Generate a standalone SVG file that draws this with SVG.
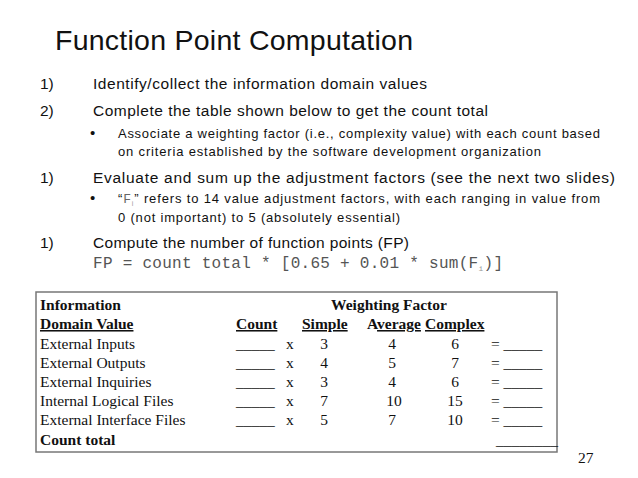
<svg xmlns="http://www.w3.org/2000/svg" width="638" height="478" viewBox="0 0 638 478">
<style>
.b{font-family:"Liberation Sans",sans-serif;fill:#111}
.t{font-family:"Liberation Serif",serif;font-size:15.5px;fill:#111}
.m{font-family:"Liberation Mono",monospace;font-size:16px;fill:#555}
.u{text-decoration:underline}
.c{text-anchor:middle}
</style>
<rect width="638" height="478" fill="#fff"/>
<g id="title"><text x="55" y="50" class="b" font-size="28.5" textLength="358">Function Point Computation</text></g>
<g id="steps" class="b">
<text x="40" y="89" font-size="15.5">1)</text>
<text x="93" y="89" font-size="15.5" textLength="334">Identify/collect the information domain values</text>
<text x="40" y="116" font-size="15.5">2)</text>
<text x="93" y="116" font-size="15.5" textLength="395">Complete the table shown below to get the count total</text>
<text x="90" y="138" font-size="15">•</text>
<text x="118" y="138" font-size="13" textLength="482">Associate a weighting factor (i.e., complexity value) with each count based</text>
<text x="118" y="156" font-size="13" textLength="423">on criteria established by the software development organization</text>
<text x="40" y="183" font-size="15.5">1)</text>
<text x="93" y="183" font-size="15.5" textLength="522">Evaluate and sum up the adjustment factors (see the next two slides)</text>
<text x="90" y="203" font-size="15">•</text>
<text x="118" y="203" font-size="13" textLength="482">“<tspan font-family="Liberation Mono" fill="#666">F</tspan><tspan font-size="7" dy="3" fill="#999">i</tspan><tspan dy="-3">” refers to 14 value adjustment factors, with each ranging in value from</tspan></text>
<text x="118" y="222" font-size="13" textLength="282">0 (not important) to 5 (absolutely essential)</text>
<text x="40" y="248" font-size="15.5">1)</text>
<text x="93" y="248" font-size="15.5" textLength="316">Compute the number of function points (FP)</text>
<text x="93" y="268" class="m" textLength="410">FP = count total * [0.65 + 0.01 * sum(F<tspan font-size="8" dy="3" fill="#999">i</tspan><tspan dy="-3">)]</tspan></text>
</g>
<g id="table">
<rect x="36" y="292" width="521" height="160" fill="none" stroke="#777" stroke-width="1.5"/>
<text x="40" y="310" class="t" font-weight="bold">Information</text>
<text x="389" y="310" class="t c" font-weight="bold">Weighting Factor</text>
<text x="40" y="329" class="t u" font-weight="bold">Domain Value</text>
<text x="236" y="329" class="t u" font-weight="bold">Count</text>
<text x="302" y="329" class="t u" font-weight="bold">Simple</text>
<text x="367" y="329" class="t" font-weight="bold">A<tspan class="u">verage</tspan></text>
<text x="425" y="329" class="t u" font-weight="bold">Complex</text>
<g class="t">
<text x="40" y="349">External Inputs</text>
<text x="40" y="368">External Outputs</text>
<text x="40" y="387">External Inquiries</text>
<text x="40" y="406">Internal Logical Files</text>
<text x="40" y="425">External Interface Files</text>
<text x="40" y="445" font-weight="bold">Count total</text>
<g>
<text x="236" y="349">_____</text><text x="236" y="368">_____</text><text x="236" y="387">_____</text><text x="236" y="406">_____</text><text x="236" y="425">_____</text>
<text x="286" y="349">x</text><text x="286" y="368">x</text><text x="286" y="387">x</text><text x="286" y="406">x</text><text x="286" y="425">x</text>
</g>
<g class="c">
<text x="324" y="349">3</text><text x="324" y="368">4</text><text x="324" y="387">3</text><text x="324" y="406">7</text><text x="324" y="425">5</text>
<text x="392" y="349">4</text><text x="392" y="368">5</text><text x="392" y="387">4</text><text x="394" y="406">10</text><text x="392" y="425">7</text>
<text x="455" y="349">6</text><text x="455" y="368">7</text><text x="455" y="387">6</text><text x="455" y="406">15</text><text x="455" y="425">10</text>
</g>
<text x="491" y="349">= _____</text><text x="491" y="368">= _____</text><text x="491" y="387">= _____</text><text x="491" y="406">= _____</text><text x="491" y="425">= _____</text>
<text x="496" y="445">________</text>
</g>
</g>
<text x="578" y="463" class="t" font-size="12">27</text>
</svg>
